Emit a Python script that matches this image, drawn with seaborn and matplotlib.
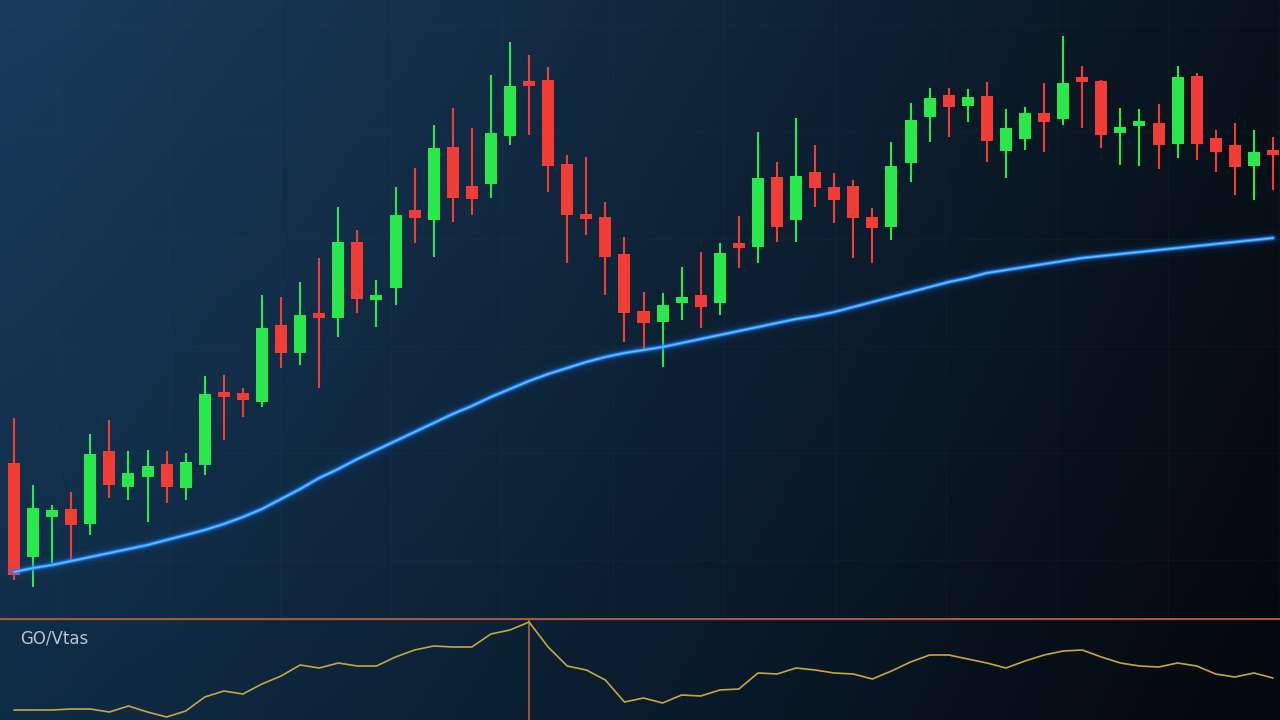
import numpy as np
import pandas as pd
import seaborn as sns
import matplotlib.pyplot as plt

# candle data (arbitrary price units)
opens = [137, 43, 83, 91, 76, 149, 113, 123, 136, 112,
         135, 208, 207, 198, 275, 247, 287, 282, 358, 301,
         312, 390, 380, 453, 414, 416, 464, 519, 520, 436,
         385, 383, 346, 289, 278, 297, 305, 297, 356, 353,
         423, 380, 428, 413, 414, 383, 373, 437, 483, 505,
         494, 504, 449, 461, 487, 481, 523, 519, 467, 474,
         477, 456, 524, 462, 455, 434, 450]
closes = [25, 92, 90, 75, 146, 115, 127, 134, 113, 138,
          206, 203, 200, 272, 247, 285, 283, 358, 301, 305,
          385, 382, 452, 402, 401, 467, 514, 514, 434, 385,
          382, 343, 287, 277, 295, 303, 293, 347, 354, 422,
          373, 424, 412, 400, 382, 372, 434, 480, 502, 493,
          503, 459, 472, 487, 478, 517, 518, 465, 473, 479,
          455, 523, 456, 448, 433, 448, 445]
highs = [182, 115, 95, 108, 166, 180, 149, 150, 149, 147,
         224, 225, 212, 305, 303, 318, 342, 393, 370, 320,
         413, 432, 475, 492, 472, 525, 558, 545, 533, 445,
         443, 398, 363, 308, 307, 333, 348, 357, 384, 468,
         438, 482, 455, 427, 420, 392, 458, 497, 512, 512,
         511, 518, 491, 493, 517, 564, 534, 520, 492, 491,
         496, 534, 527, 470, 477, 470, 463]
lows = [20, 13, 37, 40, 65, 102, 100, 78, 97, 100,
        125, 160, 183, 193, 232, 235, 212, 263, 287, 273,
        295, 357, 343, 378, 385, 402, 455, 465, 408, 337,
        365, 305, 258, 250, 233, 280, 272, 285, 332, 337,
        358, 358, 393, 377, 342, 337, 360, 418, 458, 463,
        478, 438, 422, 450, 448, 475, 472, 452, 435, 434,
        431, 442, 440, 428, 405, 400, 410]

# smooth moving average line
ma_line = [28, 32, 35, 39, 43, 47, 51, 55, 60, 65,
           70, 76, 83, 91, 101, 111, 122, 131, 141, 150,
           159, 168, 177, 186, 194, 203, 211, 219, 226, 232,
           238, 243, 247, 250, 253, 257, 261, 265, 269, 273,
           277, 281, 284, 288, 293, 298, 303, 308, 313, 318,
           322, 327, 330, 333, 336, 339, 342, 344, 346, 348,
           350, 352, 354, 356, 358, 360, 362]

# lower panel oscillator
osc_line = [10, 10, 10, 11, 11, 8, 14, 8, 3, 9,
            23, 29, 26, 36, 44, 55, 52, 57, 54, 54,
            63, 70, 74, 73, 73, 86, 90, 98, 73, 54,
            50, 40, 18, 22, 17, 25, 24, 30, 31, 47,
            46, 52, 50, 47, 46, 41, 49, 58, 65, 65,
            61, 57, 52, 59, 65, 69, 70, 63, 57, 54,
            53, 57, 54, 46, 43, 47, 42]
osc_label = "GO/Vtas"

df = pd.DataFrame({"open": opens, "close": closes, "high": highs,
                   "low": lows, "ma": ma_line, "osc": osc_line})
df["idx"] = np.arange(len(df))
df["up"] = df["close"] >= df["open"]

GREEN = "#2ae84c"
RED = "#f23d36"

sns.set_theme(style="dark")
plt.rcParams["font.family"] = ["DejaVu Sans"]

fig = plt.figure(figsize=(12.8, 7.2), dpi=100)

# background gradient
bg = fig.add_axes([0, 0, 1, 1])
bg.axis("off")
tl = np.array([0x19, 0x3b, 0x5c]) / 255
tr = np.array([0x08, 0x12, 0x1b]) / 255
bl = np.array([0x0f, 0x2c, 0x46]) / 255
br = np.array([0x04, 0x07, 0x0c]) / 255
xs = np.linspace(0, 1, 256)[None, :, None] ** 1.15
ys = np.linspace(0, 1, 144)[:, None, None]
grad = (1 - ys) * ((1 - xs) * tl + xs * tr) + ys * ((1 - xs) * bl + xs * br)
bg.imshow(grad, aspect="auto", extent=[0, 1, 0, 1], zorder=0)
bg.set_xlim(0, 1)
bg.set_ylim(0, 1)

xlim = (-0.734, 66.367)

# main candle panel
ax = fig.add_axes([0, 102 / 720, 1, 618 / 720])
ax.set_facecolor("none")
ax.set_xlim(*xlim)
ax.set_ylim(-18, 600)
ax.set_xticks(np.arange(2.3, 67, 5.82))
ax.set_yticks(np.arange(40, 600, 107))
ax.grid(True, color="#6a8aa8", alpha=0.045, lw=0.8)
ax.tick_params(labelbottom=False, labelleft=False, length=0)
for s in ax.spines.values():
    s.set_visible(False)

colors = np.where(df["up"], GREEN, RED)
ax.vlines(df["idx"], df["low"], df["high"], colors=colors, lw=1.5, zorder=3)
body_lo = np.minimum(df["open"], df["close"])
body_h = np.abs(df["close"] - df["open"])
min_h = 5
body_lo = np.where(body_h < min_h, (df["open"] + df["close"]) / 2 - min_h / 2, body_lo)
body_h = np.maximum(body_h, min_h)
ax.bar(df["idx"], body_h, bottom=body_lo, width=0.63, color=colors,
       edgecolor="none", zorder=4)

# glowing moving average
for lw, a, c in [(12, 0.05, "#1a6fe8"), (7, 0.12, "#1a74f0"),
                 (4, 0.35, "#1f86ff"), (2.2, 1.0, "#2592ff"), (0.9, 0.7, "#8fd2ff")]:
    sns.lineplot(data=df, x="idx", y="ma", ax=ax, color=c, lw=lw, alpha=a, zorder=5)
ax.set_xlabel("")
ax.set_ylabel("")

# oscillator panel
ax2 = fig.add_axes([0, 0, 1, 102 / 720], sharex=ax)
ax2.set_facecolor("none")
ax2.set_ylim(0, 102)
ax2.tick_params(labelbottom=False, labelleft=False, length=0)
ax2.grid(False)
for s in ax2.spines.values():
    s.set_visible(False)
ax2.axhline(101, color="#a5593f", lw=1.6, zorder=2)
peak = int(df["osc"].idxmax())
ax2.axvline(peak, ymax=101 / 102, color="#a5593f", lw=1.3, zorder=2)
sns.lineplot(data=df, x="idx", y="osc", ax=ax2, color="#c9a63c", lw=1.2, zorder=3)
ax2.set_xlim(*xlim)
ax2.set_xlabel("")
ax2.set_ylabel("")
ax2.text(0.016, 0.80, osc_label, transform=ax2.transAxes, color="#b9c3cc",
         fontsize=12, va="center", ha="left")

fig.savefig("out.png", dpi=100)
